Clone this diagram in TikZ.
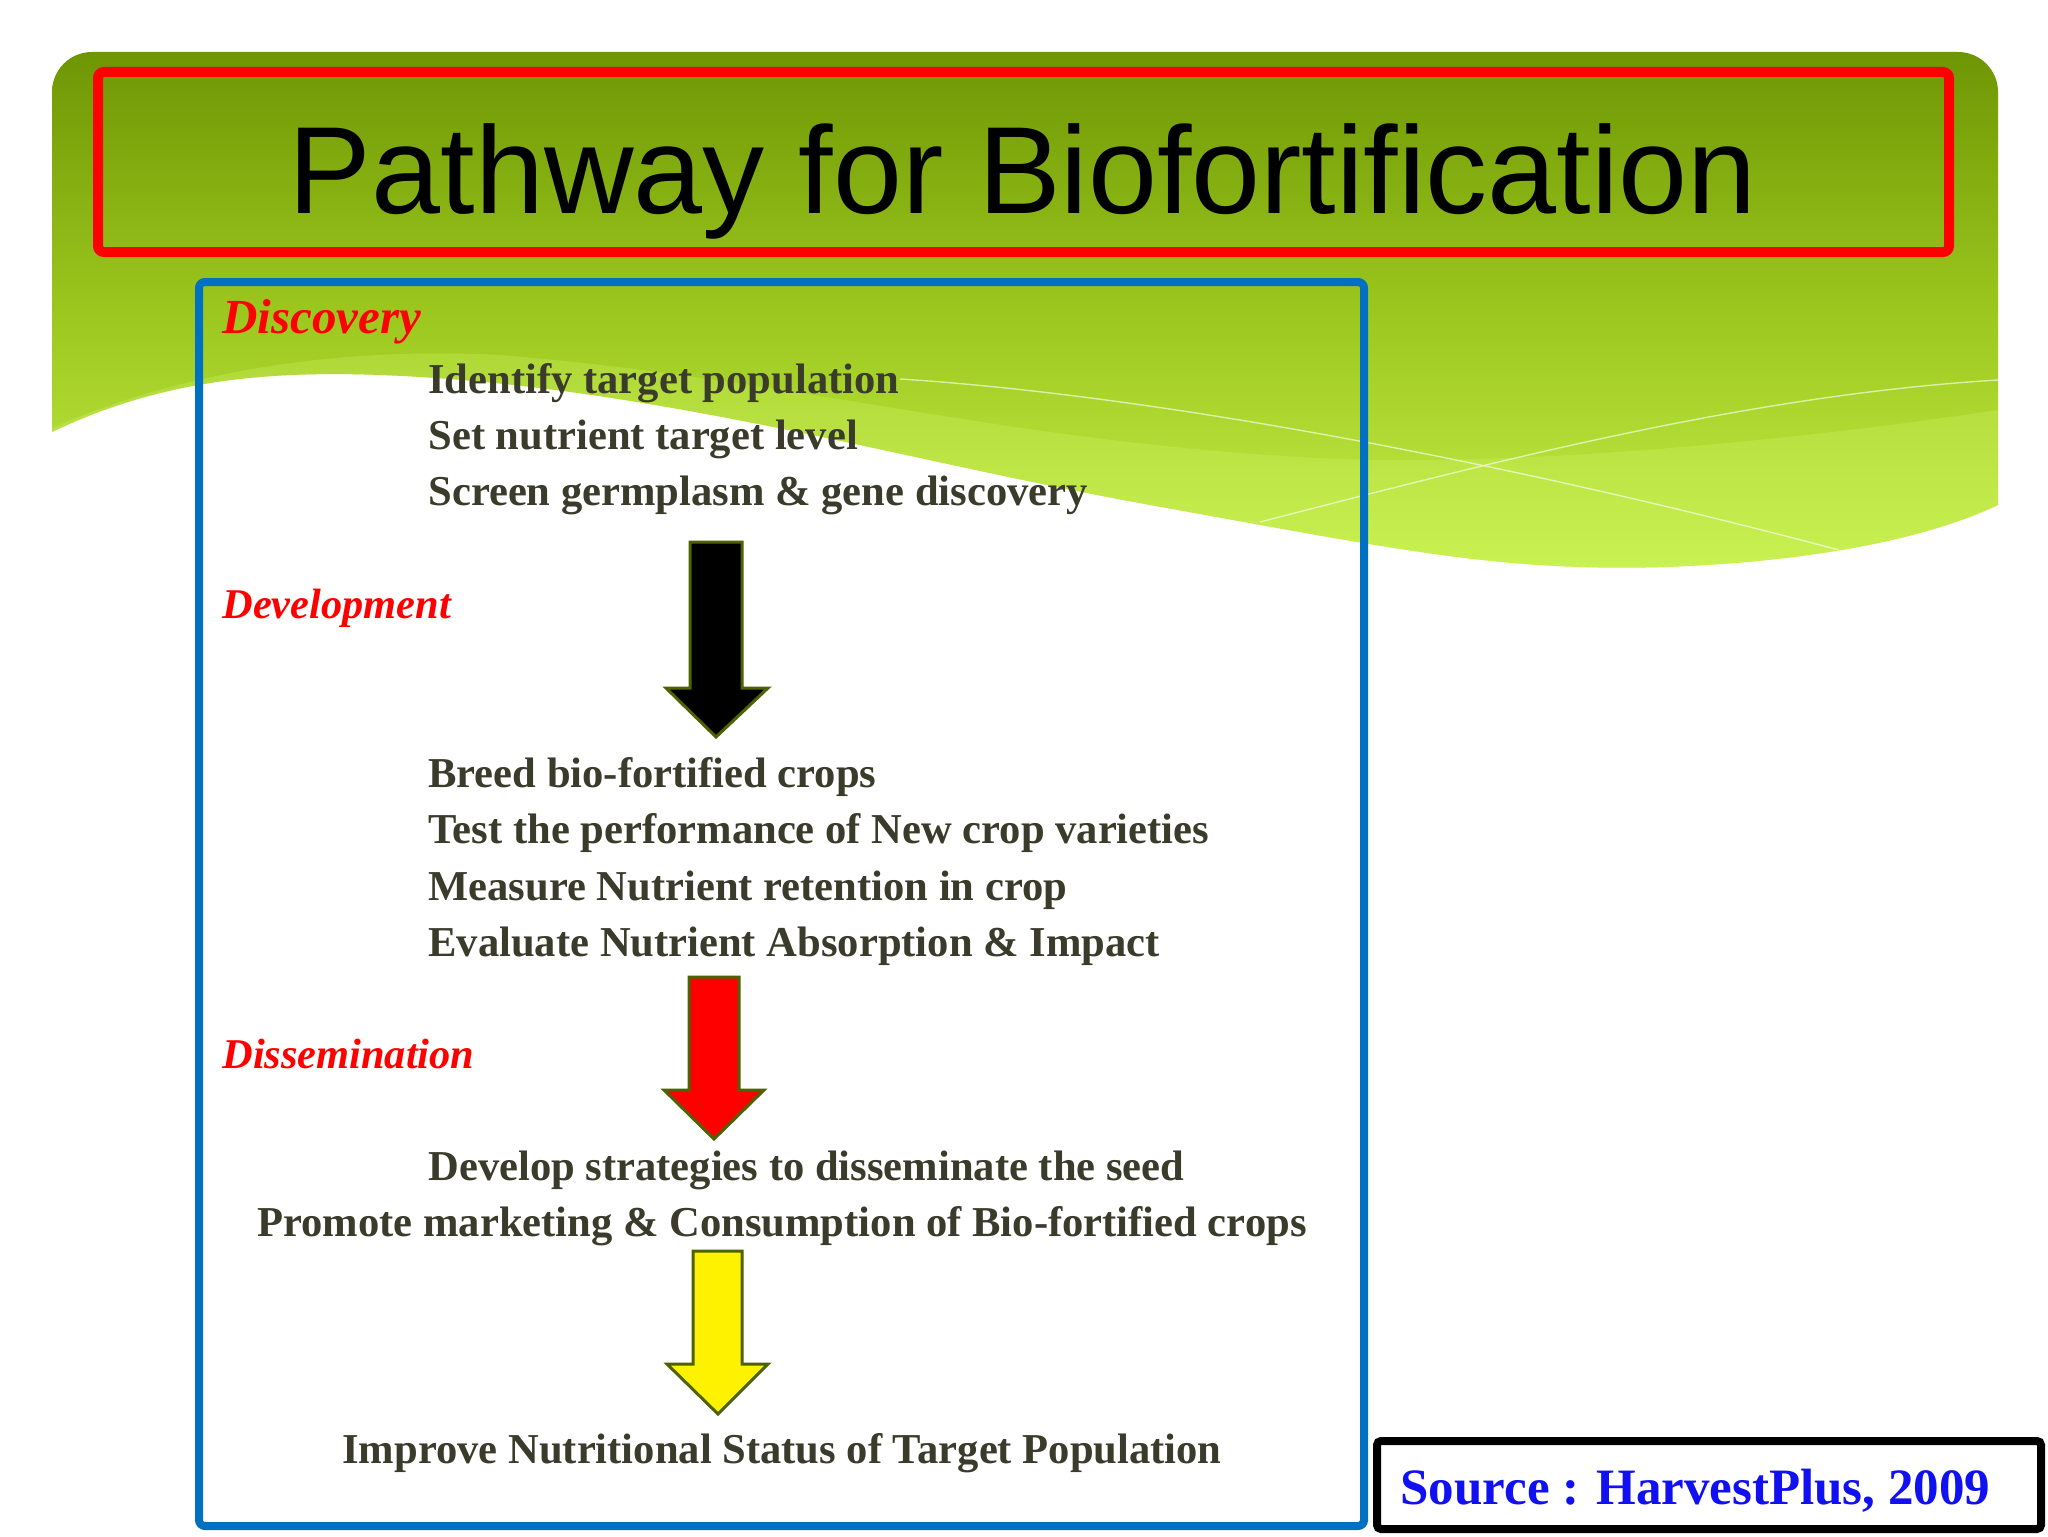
\documentclass[tikz,border=0pt]{standalone}
\usepackage{fontspec}
\setmainfont{Liberation Serif}
\newfontfamily\titlefont{Liberation Sans}
\definecolor{txt}{HTML}{3B3B2C}
\definecolor{gtop}{HTML}{6E9604}
\definecolor{gmid}{HTML}{9CC71E}
\definecolor{gbot}{HTML}{C6F04A}
\definecolor{gband}{HTML}{D2F76A}
\definecolor{olivedge}{HTML}{4D6200}
\definecolor{bluebox}{HTML}{0070C0}
\definecolor{srcblue}{HTML}{1010F0}
\tikzset{
  body/.style={anchor=base west, inner sep=0pt, font=\fontsize{21.3}{25}\selectfont\bfseries, text=txt},
  bodyc/.style={body, anchor=base},
  phase/.style={anchor=base west, inner sep=0pt, font=\fontsize{21.2}{25}\selectfont\bfseries\itshape, text=red},
  blockarrow/.style={draw=olivedge, line width=1.5pt, line join=miter},
  deco/.style={white, opacity=0.6, line width=0.7pt},
}
\begin{document}
\begin{tikzpicture}[x=0.5pt,y=-0.5pt]
\useasboundingbox (0,0) rectangle (2048,1536);
\fill[white] (0,0) rectangle (2048,1536);
% green wave background
\begin{scope}
\clip[rounded corners=20] (52,52) rectangle (1998,800);
\shade[top color=gtop, bottom color=gbot, middle color=gmid]
  (52,52) -- (1998,52) -- (1998,505)
  .. controls (1950,528) and (1850,560) .. (1667,567)
  .. controls (1500,572) and (1400,550) .. (1150,505)
  .. controls (900,460) and (650,385) .. (380,375)
  .. controls (250,370) and (150,385) .. (52,432) -- cycle;
% lighter inner band
\fill[gband, opacity=0.28]
  (1998,410) .. controls (1800,440) and (1500,470) .. (1300,457)
  .. controls (1000,440) and (800,380) .. (500,355)
  .. controls (300,345) and (150,385) .. (52,428)
  -- (52,432)
  .. controls (150,385) and (250,370) .. (380,375)
  .. controls (650,385) and (900,460) .. (1150,505)
  .. controls (1400,550) and (1500,572) .. (1667,567)
  .. controls (1850,560) and (1950,528) .. (1998,505) -- cycle;
\draw[deco] (900,379) .. controls (1150,395) and (1500,460) .. (1839,550);
\draw[deco] (1260,522) .. controls (1500,460) and (1750,395) .. (1998,380);
\end{scope}
% title box
\draw[red, line width=5pt, rounded corners=3pt] (98,72) rectangle (1949,252);
\node[anchor=base, inner sep=0pt, font=\titlefont\fontsize{62}{70}\selectfont] (title) at (1023,213) {Pathway for Biofortification};
% main blue box
\draw[bluebox, line width=4pt, rounded corners=3pt] (199,282) rectangle (1364,1526);
% texts
\node[phase, font=\fontsize{24.5}{28}\selectfont\bfseries\itshape] (disc) at (222,333) {Discovery};
\node[body] (d1) at (428,393) {Identify target population};
\node[body] (d2) at (428,449) {Set nutrient target level};
\node[body] (d3) at (428,505) {Screen germplasm \& gene discovery};
\node[phase] (dev) at (222,618) {Development};
\node[body] (v1) at (428,787) {Breed bio-fortified crops};
\node[body] (v2) at (428,843) {Test the performance of New crop varieties};
\node[body] (v3) at (428,900) {Measure Nutrient retention in crop};
\node[body] (v4) at (428,956) {Evaluate Nutrient Absorption \& Impact};
\node[phase] (dis) at (222,1068) {Dissemination};
\node[body] (s1) at (428,1180) {Develop strategies to disseminate the seed};
\node[bodyc] (s2) at (782,1236) {Promote marketing \& Consumption of Bio-fortified crops};
\node[bodyc] (fin) at (782,1463) {Improve Nutritional Status of Target Population};
% block arrows
\draw[blockarrow, fill=black] (690,542) -- (742,542) -- (742,688) -- (768,688) -- (716,737) -- (666,688) -- (690,688) -- cycle;
\draw[blockarrow, fill=red] (689,977) -- (739,977) -- (739,1090) -- (764,1090) -- (714,1139) -- (664,1090) -- (689,1090) -- cycle;
\draw[blockarrow, fill=yellow] (693,1251) -- (742,1251) -- (742,1364) -- (768,1364) -- (718,1414) -- (667,1364) -- (693,1364) -- cycle;
% source box
\draw[black, fill=white, line width=4pt, rounded corners=2pt] (1377,1441) rectangle (2041,1529);
\node[anchor=base west, inner sep=0pt, font=\fontsize{25.5}{30}\selectfont\bfseries, text=srcblue] (src) at (1400,1504) {Source : HarvestPlus, 2009};
\end{tikzpicture}
\end{document}
